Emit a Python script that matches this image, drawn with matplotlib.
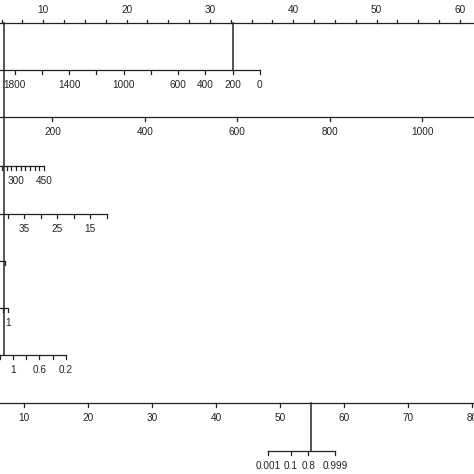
import numpy as np
import matplotlib
matplotlib.use('Agg')
import matplotlib.pyplot as plt

plt.rcParams['font.family'] = ['Liberation Sans', 'DejaVu Sans']

# ---------------- data (nomogram scales) ----------------
# Points scale (0-100)
points_ticks = np.arange(0, 100.1, 2.5)
points_labels = [0, 10, 20, 30, 40, 50, 60, 70, 80, 90, 100]

# Row 1 (reversed): value range and the points at its two ends
row1_range = (0, 2200)
row1_pts = (36.0, 0.0)
row1_ticks = np.arange(0, 2201, 200)
row1_labels = [1800, 1400, 1000, 600, 400, 200, 0]

# Row 2
row2_range = (0, 1200)
row2_pts = (0.0, 66.6)
row2_ticks = np.arange(0, 1201, 200)
row2_labels = [200, 400, 600, 800, 1000]

# Row 3
row3_range = (0, 450)
row3_pts = (0.0, 10.08)
row3_ticks = np.arange(0, 451, 25)
row3_labels = [300, 450]

# Row 4 (reversed)
row4_range = (10, 54.5)
row4_pts = (17.6, 0.0)
row4_ticks = np.arange(10, 51, 5)
row4_labels = [35, 25, 15]

# Row 5 (binary)
row5_range = (0, 1)
row5_pts = (0.0, 5.4)
row5_ticks = [0, 1]
row5_labels = []

# Row 6
row6_range = (0, 1)
row6_pts = (0.0, 5.76)
row6_ticks = [0.9, 1]
row6_labels = [1]

# Row 7 (reversed)
row7_range = (0.2, 1.8)
row7_pts = (12.7, 0.0)
row7_ticks = np.arange(0.2, 1.81, 0.2)
row7_labels = [1, 0.6, 0.2]

# Total points -> points scale factor
total_to_points = 0.768
total_ticks = np.arange(0, 101, 10)
total_labels = [0, 10, 20, 30, 40, 50, 60, 70, 80, 90, 100]

# Risk axis: total points = a + b * logit(risk)
risk_a, risk_b = 53.35, 0.76
risk_ticks = [0.001, 0.1, 0.8, 0.999]
risk_labels = ['0.001', '0.1', '0.8', '0.999']

# Patient guide lines
guide_left_points = 5.3
guide_row1_value = 200
guide_total = 54.8

# ---------------- layout ----------------
row_y = [23, 70, 117, 166, 214, 261, 308, 355, 403, 451]
LC = '#222222'
LW = 0.9
FS = 7.2
TICK = 4
XLIM = (4.8, 61.7)

fig = plt.figure(figsize=(4.74, 4.74), dpi=100)
ax = fig.add_axes([0, 0, 1, 1])
ax.set_xlim(*XLIM)
ax.set_ylim(474, 0)
ax.axis('off')


def lin(v, rng, pts):
    v = np.asarray(v, dtype=float)
    return pts[0] + (v - rng[0]) * (pts[1] - pts[0]) / (rng[1] - rng[0])


def fmt(v):
    return ('%g' % v)


def draw_row(y, rng, pts, ticks, labels, up=False):
    ax.plot([pts[0], pts[1]], [y, y], color=LC, lw=LW, solid_capstyle='butt')
    dy = -3 if up else TICK
    for t in ticks:
        x = float(lin(t, rng, pts))
        ax.plot([x, x], [y, y + dy], color=LC, lw=LW)
    for lab in labels:
        x = float(lin(lab, rng, pts))
        if not (XLIM[0] - 0.3 <= x <= XLIM[1]):
            continue
        ly = y - 13 if up else y + 15
        ax.text(x, ly, fmt(lab), ha='center', va='center', fontsize=FS, color=LC)


# Points axis
draw_row(row_y[0], (0, 100), (0, 100), points_ticks, points_labels, up=True)
draw_row(row_y[1], row1_range, row1_pts, row1_ticks, row1_labels)
draw_row(row_y[2], row2_range, row2_pts, row2_ticks, row2_labels)
draw_row(row_y[3], row3_range, row3_pts, row3_ticks, row3_labels)
draw_row(row_y[4], row4_range, row4_pts, row4_ticks, row4_labels)
draw_row(row_y[5], row5_range, row5_pts, row5_ticks, row5_labels)
draw_row(row_y[6], row6_range, row6_pts, row6_ticks, row6_labels)
draw_row(row_y[7], row7_range, row7_pts, row7_ticks, row7_labels)

# Total points
tot_pts = (0, 100 * total_to_points)
draw_row(row_y[8], (0, 100), tot_pts, total_ticks, total_labels)

# Risk axis
def logit(p):
    p = np.asarray(p, dtype=float)
    return np.log(p / (1 - p))

risk_x = (risk_a + risk_b * logit(risk_ticks)) * total_to_points
yr = row_y[9]
ax.plot([risk_x[0], risk_x[-1]], [yr, yr], color=LC, lw=LW)
for x, lab in zip(risk_x, risk_labels):
    ax.plot([x, x], [yr, yr + TICK], color=LC, lw=LW)
    ax.text(x, yr + 15, lab, ha='center', va='center', fontsize=FS, color=LC)

# Guide lines
ax.plot([guide_left_points, guide_left_points], [row_y[0], row_y[7]], color=LC, lw=LW * 1.2)
gx = float(lin(guide_row1_value, row1_range, row1_pts))
ax.plot([gx, gx], [row_y[0], row_y[1]], color=LC, lw=LW * 1.2)
tx = guide_total * total_to_points
ax.plot([tx, tx], [row_y[8], row_y[9]], color=LC, lw=LW * 1.2)

fig.savefig('out.png', dpi=100)
